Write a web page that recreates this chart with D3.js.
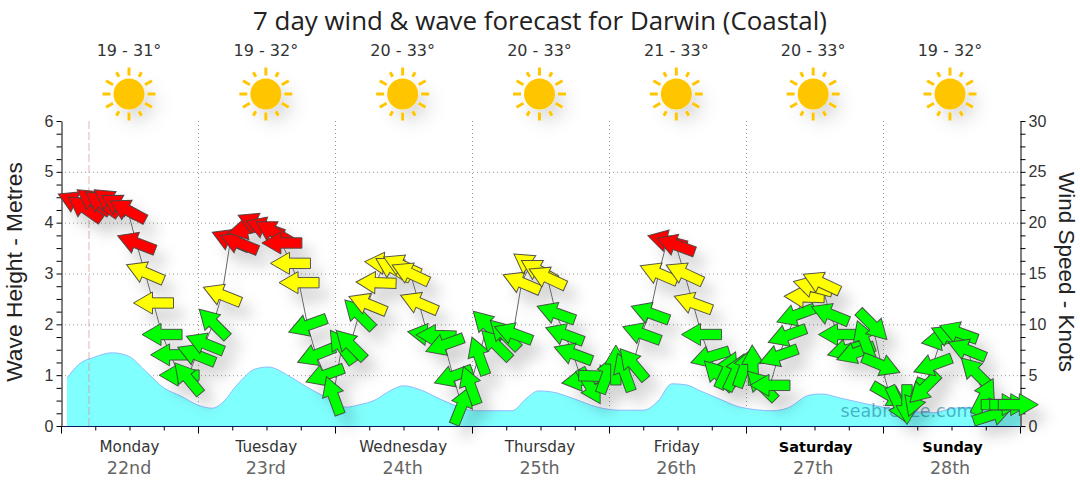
<!DOCTYPE html>
<html>
<head>
<meta charset="utf-8">
<script src="https://cdnjs.cloudflare.com/ajax/libs/d3/7.8.5/d3.min.js"></script>
<style>
html,body{margin:0;padding:0;background:#fff;overflow:hidden}
svg{display:block}
text{font-family:"Liberation Sans",Arial,sans-serif}
</style>
</head>
<body>
<svg id="chart" width="1080" height="490"></svg>
<script>
// Forecast for Darwin (Coastal)
const title = "7 day wind & wave forecast for Darwin (Coastal)";
const dayNames = ["Monday","Tuesday","Wednesday","Thursday","Friday","Saturday","Sunday"];
const dayDates = ["22nd","23rd","24th","25th","26th","27th","28th"];
const weekendDays = ["Saturday","Sunday"];
const tempRanges = ["19 - 31°","19 - 32°","20 - 33°","20 - 33°","21 - 33°","20 - 33°","19 - 32°"];

// Swell height in metres, hours counted from Monday 00:00
const waveHours = [1.05,3,6,9,11.7,15,18,21,24,26.5,28,31,34,36.3,40,43,46,50,52,55,57.6,60,63,66.4,70.4,72.5,79,81.6,83.6,86,90,94,98,102,104.6,107,109.5,112,115.4,119,124.7,127.2,131.2,133.3,136.5,140.5,144,148.2,152.8,156.3,159.8,164.5,168];
const waveHeights = [.94,1.2,1.36,1.44,1.38,1.06,.75,.59,.41,.35,.43,.83,1.12,1.16,.98,.77,.59,.37,.41,.51,.69,.79,.71,.53,.35,.3,.3,.55,.69,.67,.53,.37,.31,.31,.49,.83,.81,.69,.53,.37,.3,.35,.61,.63,.55,.45,.37,.3,.26,.35,.37,.31,.28];

// Wind samples every 1.5 hours: speed in knots, and compass bearing the arrow points to
const windStartHour = 2.7, windStepHours = 1.5;
const windSpeed = [22.0,21.4,22.1,21.9,22.1,21.7,21.2,18.0,15.1,12.1,9.0,7.0,5.0,4.7,7.0,8.1,10.1,12.9,18.3,18.0,19.4,19.9,19.5,19.1,18.0,16.0,14.1,9.9,7.0,5.0,3.0,7.8,8.0,11.0,12.0,14.1,16.0,15.5,15.8,15.0,12.1,9.0,8.9,8.0,4.9,2.0,4.0,6.9,9.9,8.0,9.0,9.1,14.1,15.8,15.3,14.6,11.1,9.0,7.1,4.5,3.9,4.9,5.1,6.0,5.3,6.1,9.1,11.1,15.0,18.2,17.8,15.0,12.1,9.0,6.8,5.0,5.5,5.3,5.7,6.0,4.0,4.0,6.9,8.9,10.9,12.7,13.7,14.1,11.0,9.0,7.5,7.2,8.5,9.9,6.0,3.0,2.1,2.1,2.8,3.7,6.0,8.5,8.8,9.2,7.5,5.3,2.9,1.1,2.1,2.1,2.1];
const windBearing = [295,305,305,305,305,300,298,291,293,270,270,270,270,320,292,292,315,292,293,292,258,295,290,300,270,270,270,250,248,250,340,325,315,315,292,272,275,300,295,295,293,278,272,250,250,22,340,340,315,315,315,290,293,305,300,295,290,290,290,262,150,92,20,0,340,320,290,290,293,285,290,295,290,270,253,315,25,25,20,358,315,270,250,250,250,272,285,295,292,270,255,250,340,135,112,120,155,180,200,225,250,260,295,290,292,315,27,72,90,90,90];

const waveTicks = [0,1,2,3,4,5,6];
const windTicks = [0,5,10,15,20,25,30];
const nowHour = 4.9;

const M = {left:61, right:1020, top:121, bottom:426};
const x = d3.scaleLinear().domain([0,168]).range([M.left,M.right]);
const xDay = d3.scaleLinear().domain([0,6]).range([129,950]);
const yWave = d3.scaleLinear().domain([0,6]).range([M.bottom,M.top]);
const yWind = d3.scaleLinear().domain([0,30]).range([M.bottom,M.top]);
const windColor = d3.scaleThreshold().domain([12,17]).range(["#00ff00","#ffff00","#ff0000"]);
const windHour = i => windStartHour + i*windStepHours;

const svg = d3.select("#chart");
const defs = svg.append("defs");
const shadow = (id,dx,dy,sd,op) => {
  const f = defs.append("filter").attr("id",id)
    .attr("filterUnits","userSpaceOnUse").attr("x",0).attr("y",0).attr("width",1080).attr("height",490);
  f.append("feDropShadow").attr("dx",dx).attr("dy",dy).attr("stdDeviation",sd)
    .attr("flood-color","#000").attr("flood-opacity",op);
};
shadow("arrowShadow",10,12,7,.17);
shadow("sunShadow",8,10,7,.13);

// Title and daily temperature range
svg.append("text").attr("x",540).attr("y",30).attr("text-anchor","middle")
  .style("font-family",'"Open Sans"').style("font-size","25.9px").attr("fill","#222").text(title);

svg.append("g").selectAll("text").data(tempRanges).join("text")
  .attr("x",(d,i)=>xDay(i)).attr("y",56).attr("text-anchor","middle")
  .style("font-family",'"DejaVu Sans"').style("font-size","16px").attr("fill","#333").text(d=>d);

// Sun icons: disc plus twelve rays, the ones beside the vertical axis shorter
const sunLayer = svg.append("g").attr("filter","url(#sunShadow)");
dayNames.forEach((_,i)=>{
  const g = sunLayer.append("g").attr("transform",`translate(${xDay(i)},94)`);
  g.append("circle").attr("r",15.5).attr("fill","#ffc603");
  d3.range(12).forEach(k=>{
    const short = k===1||k===5||k===7||k===11;
    g.append("line").attr("y1",short?-20:-18.5).attr("y2",short?-25:-26.5)
      .attr("transform",`rotate(${k*30})`).attr("stroke","#ffc603").attr("stroke-width",3);
  });
});

// Dotted grid
const grid = svg.append("g").attr("stroke","#999").attr("stroke-dasharray","1,3").attr("fill","none");
waveTicks.filter(d=>d>0&&d<6).forEach(d=>{
  grid.append("line").attr("x1",M.left).attr("x2",M.right).attr("y1",yWave(d)+.5).attr("y2",yWave(d)+.5);
});
d3.range(1,7).forEach(d=>{
  grid.append("line").attr("x1",x(24*d)+.5).attr("x2",x(24*d)+.5).attr("y1",M.top).attr("y2",M.bottom);
});

// Swell area
const area = d3.area().x((d,i)=>x(waveHours[i])).y0(M.bottom).y1(d=>yWave(d)).curve(d3.curveMonotoneX);
const topLine = d3.line().x((d,i)=>x(waveHours[i])).y(d=>yWave(d)).curve(d3.curveMonotoneX);
svg.append("path").attr("d",area(waveHeights)).attr("fill","#80ffff");
svg.append("path").attr("d",topLine(waveHeights)).attr("fill","none").attr("stroke","#8fbcff").attr("stroke-width",1);

// Marker for the current time
svg.append("line").attr("x1",x(nowHour)).attr("x2",x(nowHour)).attr("y1",M.top).attr("y2",M.bottom)
  .attr("stroke","#e08a8a").attr("stroke-opacity",.65).attr("stroke-dasharray","8,3");

// Watermark
svg.append("text").attr("x",907).attr("y",417).attr("text-anchor","middle")
  .style("font-family",'"DejaVu Sans"').style("font-size","17.5px").attr("fill","#1d7f9c").attr("fill-opacity",.6).text("seabreeze.com");

// Axes
const axisStyle = g => {
  g.selectAll("text").style("font-size","16px").attr("fill","#333");
  g.select(".domain").attr("stroke","#000");
  g.selectAll("line").attr("stroke","#000");
};
svg.append("g").attr("transform",`translate(${M.left+.5},0)`)
  .call(d3.axisLeft(yWave).tickValues(d3.range(0,6.01,.25)).tickSize(5).tickSizeOuter(0)
    .tickFormat(d=>Number.isInteger(d)?d:"")).call(axisStyle);
svg.append("g").attr("transform",`translate(${M.right+.5},0)`)
  .call(d3.axisRight(yWind).tickValues(d3.range(0,30.01,1.25)).tickSize(5).tickSizeOuter(0)
    .tickFormat(d=>d%5===0?d:"")).call(axisStyle);

const xAxis = svg.append("g").attr("transform",`translate(0,${M.bottom+.5})`);
xAxis.append("line").attr("x1",M.left).attr("x2",M.right).attr("stroke","#001a5c");
xAxis.selectAll(".tick").data(d3.range(0,168.1,6)).join("line").attr("class","tick")
  .attr("x1",d=>x(d)+.5).attr("x2",d=>x(d)+.5).attr("y1",0).attr("y2",d=>d%24===0?7:4).attr("stroke","#000");

svg.append("g").selectAll("text").data(dayNames).join("text")
  .attr("x",(d,i)=>xDay(i)+(weekendDays.includes(d)?2.5:.5)).attr("y",452).attr("text-anchor","middle")
  .style("font-family",'"DejaVu Sans"')
  .style("font-size",d=>weekendDays.includes(d)?"14.5px":"15.2px")
  .style("font-weight",d=>weekendDays.includes(d)?"bold":"normal")
  .attr("fill",d=>weekendDays.includes(d)?"#000":"#333").text(d=>d);
svg.append("g").selectAll("text").data(dayDates).join("text")
  .attr("x",(d,i)=>xDay(i)).attr("y",474).attr("text-anchor","middle")
  .style("font-family",'"DejaVu Sans"').style("font-size","17.5px").attr("fill","#666").text(d=>d);

// Axis titles
svg.append("text").attr("transform",`translate(22,272) rotate(-90)`).attr("text-anchor","middle")
  .style("font-size","22.8px").attr("fill","#222").text("Wave Height - Metres");
svg.append("text").attr("transform",`translate(1059,272) rotate(90)`).attr("text-anchor","middle")
  .style("font-size","22.5px").attr("fill","#222").text("Wind Speed - Knots");

// Wind line and arrows, drawn in time order so later samples sit on top
const windLine = d3.line().x((d,i)=>x(windHour(i))).y(d=>yWind(d));
const arrowPath = "M0,-20L11,-1L5.2,-1L5.2,20L-5.2,20L-5.2,-1L-11,-1Z";
const windLayer = svg.append("g").attr("filter","url(#arrowShadow)");
windLayer.append("path").attr("d",windLine(windSpeed)).attr("fill","none").attr("stroke","#666").attr("stroke-width",1);
windLayer.selectAll("path.arrow").data(windSpeed).join("path").attr("class","arrow")
  .attr("d",arrowPath)
  .attr("transform",(d,i)=>`translate(${x(windHour(i))},${yWind(d)}) rotate(${windBearing[i]})`)
  .attr("fill",d=>windColor(d)).attr("stroke","#444").attr("stroke-width",1).attr("stroke-opacity",.9);
</script>
</body>
</html>
